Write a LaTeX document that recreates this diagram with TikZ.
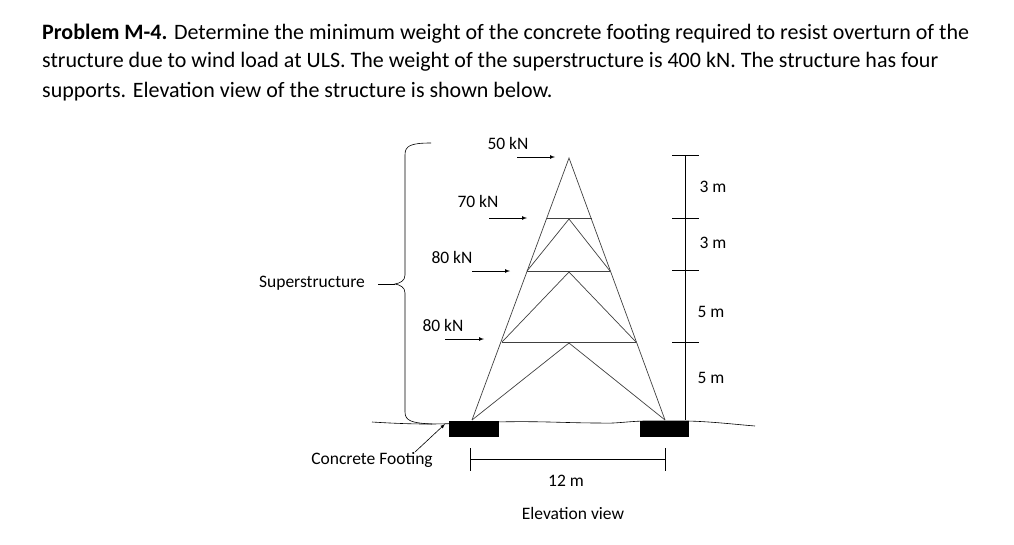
\documentclass[tikz,border=0pt]{standalone}
\usepackage{fontspec}
\setmainfont{Carlito}
\begin{document}
\begin{tikzpicture}[x=1pt,y=-1pt,
  title/.style={anchor=west,inner sep=0,font=\fontsize{22}{24}\selectfont},
  lab/.style={inner sep=0,font=\fontsize{17.5}{19}\selectfont},
  mem/.style={draw=black!75,line width=0.7pt},
  load/.style={-latex,line width=0.7pt},
  dim/.style={line width=0.7pt}]
\useasboundingbox (0,0) rectangle (1014,544);
\node[title] (t1) at (42,34) {\textbf{Problem M-4.} Determine the minimum weight of the concrete footing required to resist overturn of the};
\node[title] (t2) at (42,62) {structure due to wind load at ULS. The weight of the superstructure is 400 kN. The structure has four};
\node[title] (t3) at (42,92) {supports. Elevation view of the structure is shown below.};
% tower
\coordinate (A) at (569,158);
\coordinate (L1) at (547,218); \coordinate (R1) at (592,218);
\coordinate (L2) at (527,271); \coordinate (R2) at (610,271);
\coordinate (L3) at (502,342); \coordinate (R3) at (636,342);
\coordinate (L4) at (472,420); \coordinate (R4) at (665,420);
\coordinate (M1) at (569,219); \coordinate (M2) at (569,272); \coordinate (M3) at (569,343);
\draw[mem] (L4)--(A)--(R4);
\draw[mem] (L1)--(R1) (L2)--(R2) (L3)--(R3);
\draw[mem] (L2)--(M1)--(R2) (L3)--(M2)--(R3) (L4)--(M3)--(R4);
% ground
\draw[line width=0.6pt] (372,422) .. controls (420,425) and (440,424) .. (470,423) .. controls (530,420) and (560,423) .. (600,423) .. controls (620,424) and (630,420) .. (665,421) .. controls (700,420) and (730,424) .. (755,426);
\fill (449,421) rectangle (499,437);
\fill (640,421) rectangle (689,437);
% dimensions
\draw[dim] (685,155)--(685,420);
\foreach \y in {155,218,270,342} \draw[dim] (672,\y)--(699,\y);
\node[lab] (d1) at (713,187) {3 m};
\node[lab] (d2) at (713,243) {3 m};
\node[lab] (d3) at (711,312) {5 m};
\node[lab] (d4) at (711,378) {5 m};
\draw[dim] (470,459)--(665,459) (470,448)--(470,471) (665,448)--(665,471);
\node[lab] (w) at (566,481) {12 m};
\node[lab] (ev) at (573,513) {Elevation view};
% loads
\node[lab] (f1) at (508,143) {50 kN}; \draw[load] (517,157)--(555,157);
\node[lab] (f2) at (478,201) {70 kN}; \draw[load] (489,218)--(527,218);
\node[lab] (f3) at (452,257) {80 kN}; \draw[load] (472,271)--(510,271);
\node[lab] (f4) at (443,325) {80 kN}; \draw[load] (445,339)--(484,339);
% brace
\draw[line width=0.6pt] (431,143) .. controls (410,143) and (405,146) .. (405,155) -- (405,275) .. controls (405,281) and (400,283) .. (395,284) .. controls (400,285) and (405,287) .. (405,293) -- (405,412) .. controls (405,421) and (412,423) .. (432,424);
\node[lab] (ss) at (312,283) {Superstructure};
\draw[line width=0.6pt] (378,284) -- (395,284);
\node[lab] (cf) at (372,460) {Concrete Footing};
\draw[-latex,line width=0.6pt] (415,452)--(445,424);
\end{tikzpicture}
\end{document}
